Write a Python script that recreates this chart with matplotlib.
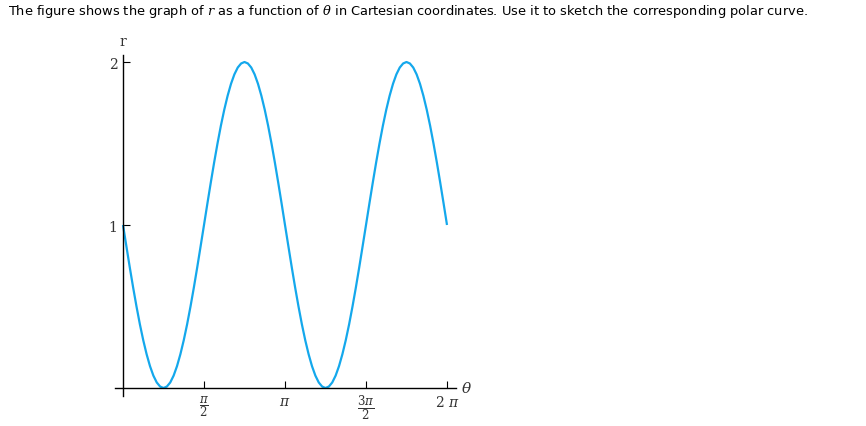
import numpy as np
import matplotlib
matplotlib.use("Agg")
import matplotlib.pyplot as plt

# theta values at steps of pi/48 from 0 to 2*pi (in units of pi/48)
theta_steps = list(range(0, 97))
r_values = [
    1.000, 0.870, 0.741, 0.617, 0.500, 0.391, 0.293, 0.207, 0.134, 0.076, 0.034, 0.009,
    0.000, 0.009, 0.034, 0.076, 0.134, 0.207, 0.293, 0.391, 0.500, 0.617, 0.741, 0.870,
    1.000, 1.131, 1.259, 1.383, 1.500, 1.609, 1.707, 1.793, 1.866, 1.924, 1.966, 1.991,
    2.000, 1.991, 1.966, 1.924, 1.866, 1.793, 1.707, 1.609, 1.500, 1.383, 1.259, 1.131,
    1.000, 0.870, 0.741, 0.617, 0.500, 0.391, 0.293, 0.207, 0.134, 0.076, 0.034, 0.009,
    0.000, 0.009, 0.034, 0.076, 0.134, 0.207, 0.293, 0.391, 0.500, 0.617, 0.741, 0.870,
    1.000, 1.131, 1.259, 1.383, 1.500, 1.609, 1.707, 1.793, 1.866, 1.924, 1.966, 1.991,
    2.000, 1.991, 1.966, 1.924, 1.866, 1.793, 1.707, 1.609, 1.500, 1.383, 1.259, 1.131,
    1.000,
]
x_tick_values = [np.pi / 2, np.pi, 3 * np.pi / 2, 2 * np.pi]
x_tick_labels = [r"$\dfrac{\pi}{2}$", r"$\pi$", r"$\dfrac{3\pi}{2}$", r"$2\ \pi$"]
x_tick_sizes = [8.5, 10.0, 8.5, 10.0]
y_tick_values = [1, 2]
y_tick_labels = ["1", "2"]
title = ("The figure shows the graph of $r$ as a function of $\\theta$ in Cartesian "
         "coordinates. Use it to sketch the corresponding polar curve.")

plt.rcParams["mathtext.fontset"] = "dejavuserif"

fig = plt.figure(figsize=(8.66, 4.27), dpi=100)
ax = fig.add_axes([115 / 866, 1 - 397 / 427, 341 / 866, 341 / 427])

theta = np.array(theta_steps) * np.pi / 48
ax.plot(theta, r_values, color="#14a8ec", lw=1.6, solid_capstyle="butt")

ax.set_xlim(-8 * 2 * np.pi / 324, 333 * 2 * np.pi / 324)
ax.set_ylim(-8 / 163.0, 333 / 163.0)

for s in ["top", "right"]:
    ax.spines[s].set_visible(False)
ax.spines["bottom"].set_position(("data", 0))
ax.spines["left"].set_position(("data", 0))
for s in ["bottom", "left"]:
    ax.spines[s].set_linewidth(1.0)
    ax.spines[s].set_color("#000000")

ax.set_xticks(x_tick_values)
ax.set_xticklabels(x_tick_labels)
for lab, sz in zip(ax.get_xticklabels(), x_tick_sizes):
    lab.set_fontsize(sz)
ax.set_yticks(y_tick_values)
ax.set_yticklabels(y_tick_labels, fontfamily="DejaVu Serif")
ax.tick_params(axis="x", direction="in", length=5, width=0.8,
               pad=4, labelcolor="#333333", color="black")
ax.tick_params(axis="y", direction="in", length=5, width=0.8, labelsize=10,
               pad=4, labelcolor="#333333", color="black")

ax.text(0.0, 2.085, "r", fontsize=10, fontfamily="DejaVu Serif",
        ha="center", va="bottom", color="#333333")
ax.text(1.015, 8 / 341, r"$\theta$", transform=ax.transAxes, fontsize=11,
        ha="left", va="center", color="#333333")

fig.text(8 / 866, 1 - 12 / 427, title, fontsize=9.35, fontfamily="DejaVu Sans",
         ha="left", va="center", color="#000000")

fig.savefig("out.png", dpi=100)
